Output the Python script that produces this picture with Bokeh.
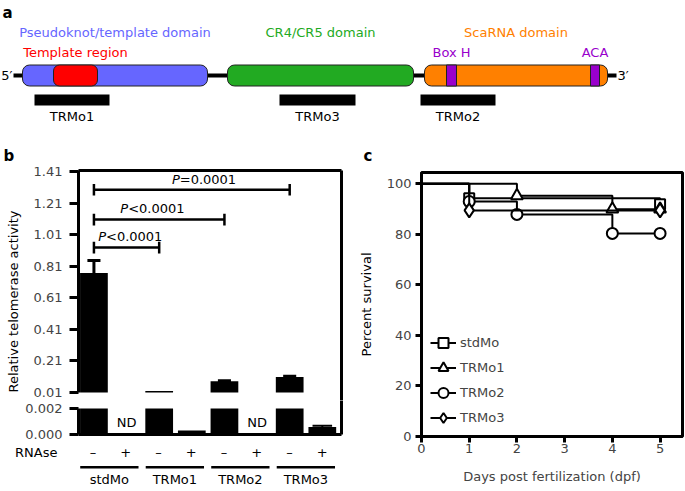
import math
from bokeh.plotting import figure
from bokeh.models import (Range1d, LinearAxis, FixedTicker, NumeralTickFormatter,
                          Legend, LegendItem)
from bokeh.layouts import column, row
from bokeh.embed import file_html
from bokeh.resources import INLINE
from bokeh.core.properties import value

FONT = "DejaVu Sans"
FS = "13px"

# ---------------- Panel a data (diagram units) ----------------
domain_names = ["Pseudoknot/template domain", "CR4/CR5 domain", "ScaRNA domain"]
domain_start = [22, 227, 424]
domain_end = [207, 413, 607]
domain_colors = ["#6666ff", "#22aa22", "#ff8000"]
template_name = ["Template region"]
template_start = [53]
template_end = [97]
template_color = ["#ff0000"]
motif_names = ["Box H", "ACA"]
motif_start = [446, 590]
motif_end = [456, 599]
motif_color = ["#9900cc", "#9900cc"]
rna_start, rna_end = 13, 616
mo_names = ["TRMo1", "TRMo3", "TRMo2"]
mo_start = [34, 279, 420]
mo_end = [109, 355, 495]

# ---------------- Panel b data ----------------
groups = ["stdMo", "TRMo1", "TRMo2", "TRMo3"]
rnase = ["\u2013", "+"]
activity = [0.769, None, 0.020, 0.0003, 0.081, None, 0.108, 0.00058]
act_err = [0.079, None, 0.0, 0.0, 0.004, None, 0.005, 0.0001]
upper_ticks = [0.01, 0.21, 0.41, 0.61, 0.81, 1.01, 1.21, 1.41]
lower_ticks = [0.0, 0.002]
pv_from = [0, 0, 0]
pv_to = [2, 4, 6]
pv_y = [0.93, 1.108, 1.297]
pv_text = ["<0.0001", "<0.0001", "=0.0001"]
pv_label_x = [0.37, 1.05, 2.63]

# ---------------- Panel c data ----------------
series_names = ["stdMo", "TRMo1", "TRMo2", "TRMo3"]
series_days = [[0, 1, 5], [0, 2, 4, 5], [0, 1, 2, 4, 5], [0, 1, 5]]
series_surv = [[100, 94.3, 91.9], [100, 95.3, 90.0, 90.0],
               [100, 93.0, 87.9, 80.4, 80.4], [100, 89.5, 89.5]]
series_marker = ["square", "triangle", "circle", "diamond"]
series_msize = [10, 12, 11, 14]
c_xticks = [0, 1, 2, 3, 4, 5]
c_yticks = [0, 20, 40, 60, 80, 100]


def base_fig(**kw):
    p = figure(toolbar_location=None, output_backend="svg",
               x_axis_location=None, y_axis_location=None, **kw)
    p.xgrid.visible = False
    p.ygrid.visible = False
    p.background_fill_color = None
    p.border_fill_color = None
    return p


def tx(p, **kw):
    kw.setdefault("text_font", value(FONT))
    kw.setdefault("text_font_size", value(FS))
    kw.setdefault("text_color", "black")
    return p.text(**kw)


def border_axis():
    return LinearAxis(ticker=FixedTicker(ticks=[]), axis_line_width=3,
                      axis_line_color="black", major_tick_line_color=None,
                      minor_tick_line_color=None, major_label_text_font_size="0px",
                      major_tick_out=0, major_tick_in=0, major_label_standoff=0)


TOTAL_W = 684

# ================= Panel a =================
fa = base_fig(width=TOTAL_W, height=140, x_range=Range1d(0, TOTAL_W), y_range=Range1d(140, 0),
              min_border=0, outline_line_color=None)
fa.line(x=[rna_start, rna_end], y=[75, 75], line_width=4, line_color="black")
fa.quad(left=domain_start, right=domain_end, top=64.5, bottom=85.5,
        fill_color=domain_colors, line_color="#222222", line_width=1, border_radius=7)
fa.quad(left=template_start, right=template_end, top=64.5, bottom=85.5,
        fill_color=template_color, line_color="#222222", line_width=1, border_radius=6)
fa.quad(left=motif_start, right=motif_end, top=64.5, bottom=85.5,
        fill_color=motif_color, line_color="#222222", line_width=1)
fa.quad(left=mo_start, right=mo_end, top=94, bottom=105, fill_color="black", line_color=None)
tx(fa, x=[(s + e) / 2 for s, e in zip(domain_start, domain_end)], y=[31.5] * 3,
   text=domain_names, text_color=domain_colors, text_align="center", text_baseline="middle")
tx(fa, x=[(s + e) / 2 for s, e in zip(template_start, template_end)], y=[51.5],
   text=template_name, text_color=template_color, text_align="center", text_baseline="middle")
tx(fa, x=[(s + e) / 2 for s, e in zip(motif_start, motif_end)], y=[51.5] * 2,
   text=motif_names, text_color=motif_color, text_align="center", text_baseline="middle")
tx(fa, x=[(s + e) / 2 for s, e in zip(mo_start, mo_end)], y=[116] * 3,
   text=mo_names, text_align="center", text_baseline="middle")
tx(fa, x=[rna_start - 1], y=[75], text=["5\u2032"], text_align="right", text_baseline="middle")
tx(fa, x=[rna_end + 1], y=[75], text=["3\u2032"], text_align="left", text_baseline="middle")
tx(fa, x=[2], y=[12], text=["a"], text_font_style="bold", text_font_size=value("15px"),
   text_align="left", text_baseline="alphabetic")

# ================= Panel b =================
slots = list(range(len(groups) * len(rnase)))
XS, XE = -0.473, 7.588
LAB_W = 22
B_LEFT, B_RIGHT = 55, 9
TOP_W = 328
frame_w = TOP_W - B_LEFT - B_RIGHT
kx = frame_w / (XE - XS)
xr = Range1d(XS, XE)

KY = 157.5            # px per unit, upper segment
UP_BOT_PAD = 8        # px between the 0.01 level and the bottom of the upper frame
UP_TOP = 1.4195
up_start = 0.01 - UP_BOT_PAD / KY
TOP_H = 260
ftop = base_fig(width=TOP_W, height=TOP_H, x_range=xr, y_range=Range1d(up_start, UP_TOP),
                min_border_left=B_LEFT, min_border_right=B_RIGHT, min_border_top=30,
                min_border_bottom=0, outline_line_color=None)
ax_up = LinearAxis(ticker=FixedTicker(ticks=upper_ticks), formatter=NumeralTickFormatter(format="0.00"),
                   bounds=(0.01, UP_TOP),
                   axis_line_width=3, major_tick_line_width=3, major_tick_out=9, major_tick_in=0,
                   minor_tick_line_color=None, major_label_standoff=7,
                   major_label_text_font=FONT, major_label_text_font_size=FS)
ftop.add_layout(ax_up, "left")
ftop.add_layout(border_axis(), "above")
ftop.add_layout(border_axis(), "right")

up_i = [i for i, v in enumerate(activity) if v is not None and v > 0.01]
ftop.vbar(x=[slots[i] for i in up_i], bottom=0.01, top=[activity[i] for i in up_i],
          width=0.85, fill_color="black", line_color=None)
eb_i = [i for i in up_i if act_err[i] > 0]
ftop.segment(x0=[slots[i] for i in eb_i], x1=[slots[i] for i in eb_i],
             y0=[activity[i] for i in eb_i], y1=[activity[i] + act_err[i] for i in eb_i],
             line_width=3, line_color="black")
ftop.segment(x0=[slots[i] - 0.2 for i in eb_i], x1=[slots[i] + 0.2 for i in eb_i],
             y0=[activity[i] + act_err[i] for i in eb_i], y1=[activity[i] + act_err[i] for i in eb_i],
             line_width=3, line_color="black")
# significance brackets
ftop.segment(x0=[slots[a] for a in pv_from], x1=[slots[b] for b in pv_to], y0=pv_y, y1=pv_y,
             line_width=2.5, line_color="black")
cap = 0.037
ends = [slots[a] for a in pv_from] + [slots[b] for b in pv_to]
ends_y = pv_y + pv_y
ftop.segment(x0=ends, x1=ends, y0=[y - cap for y in ends_y], y1=[y + cap for y in ends_y],
             line_width=2.5, line_color="black")
lab_dy = 0.068
tx(ftop, x=pv_label_x, y=[y + lab_dy for y in pv_y], text=["P"] * 3, text_font_style="italic",
   text_align="right", text_baseline="alphabetic")
tx(ftop, x=pv_label_x, y=[y + lab_dy for y in pv_y], text=pv_text,
   text_align="left", text_baseline="alphabetic")

# lower segment: 0.002 spans 26 px, frame 34 px tall
LOW_H = 44
low_top = 0.002 * 34 / 26
flow = base_fig(width=TOP_W, height=LOW_H, x_range=xr, y_range=Range1d(0, low_top),
                min_border_left=B_LEFT, min_border_right=B_RIGHT, min_border_top=0,
                min_border_bottom=10, outline_line_color=None)
ax_lo = LinearAxis(ticker=FixedTicker(ticks=lower_ticks), formatter=NumeralTickFormatter(format="0.000"),
                   bounds=(0, 0.002), axis_line_width=3, major_tick_line_width=3, major_tick_out=9,
                   major_tick_in=0, minor_tick_line_color=None, major_label_standoff=7,
                   major_label_text_font=FONT, major_label_text_font_size=FS)
flow.add_layout(ax_lo, "left")
flow.add_layout(border_axis(), "right")
flow.add_layout(border_axis(), "below")
lo_i = [i for i, v in enumerate(activity) if v is not None]
flow.vbar(x=[slots[i] for i in lo_i], bottom=0, top=[min(activity[i], 0.002) for i in lo_i],
          width=0.85, fill_color="black", line_color=None)
elo = [i for i in lo_i if activity[i] < 0.002 and act_err[i] > 0]
flow.segment(x0=[slots[i] for i in elo], x1=[slots[i] for i in elo],
             y0=[activity[i] for i in elo], y1=[activity[i] + act_err[i] for i in elo],
             line_width=2, line_color="black")
flow.segment(x0=[slots[i] - 0.3 for i in elo], x1=[slots[i] + 0.3 for i in elo],
             y0=[activity[i] + act_err[i] for i in elo], y1=[activity[i] + act_err[i] for i in elo],
             line_width=2, line_color="black")
nd_i = [i for i, v in enumerate(activity) if v is None]
tx(flow, x=[slots[i] for i in nd_i], y=[0.00095] * len(nd_i), text=["ND"] * len(nd_i),
   text_align="center", text_baseline="middle")

# y label + "b"
LAB_H = TOP_H + LOW_H
flab = base_fig(width=LAB_W, height=LAB_H, x_range=Range1d(0, LAB_W),
                y_range=Range1d(140 + LAB_H, 140), min_border=0, outline_line_color=None)
tx(flab, x=[3], y=[155], text=["b"], text_font_style="bold", text_font_size=value("15px"),
   text_align="left", text_baseline="alphabetic")
tx(flab, x=[13], y=[301], text=["Relative telomerase activity"], angle=math.pi / 2,
   text_align="center", text_baseline="middle")

# x labels
XL_W = LAB_W + TOP_W
XL_TOP = 140 + LAB_H
frame_left_px = LAB_W + B_LEFT
frame_right_px = LAB_W + TOP_W - B_RIGHT
xl_start = XS - frame_left_px / kx
xl_end = XE + (XL_W - frame_right_px) / kx
fxl = base_fig(width=XL_W, height=490 - XL_TOP, x_range=Range1d(xl_start, xl_end),
               y_range=Range1d(490, XL_TOP), min_border=0, outline_line_color=None)
tx(fxl, x=slots, y=[452] * len(slots), text=rnase * len(groups), text_align="center",
   text_baseline="middle")
tx(fxl, x=[XS - 20 / kx], y=[452], text=["RNAse"], text_align="right", text_baseline="middle")
gcent = [2 * g + 0.5 for g in range(len(groups))]
fxl.segment(x0=[c - 0.89 for c in gcent], x1=[c + 0.89 for c in gcent], y0=[466.7] * 4,
            y1=[466.7] * 4, line_width=2.5, line_color="black")
tx(fxl, x=gcent, y=[478.5] * 4, text=groups, text_align="center", text_baseline="middle")

panel_b = column(row(flab, column(ftop, flow)), fxl)

# ================= Panel c =================
CX0 = XL_W
CLAB_W = 25
clab = base_fig(width=CLAB_W, height=350, x_range=Range1d(CX0, CX0 + CLAB_W),
                y_range=Range1d(490, 140), min_border=0, outline_line_color=None)
tx(clab, x=[CX0 + 13], y=[155], text=["c"], text_font_style="bold", text_font_size=value("15px"),
   text_align="left", text_baseline="alphabetic")
tx(clab, x=[CX0 + 16], y=[304], text=["Percent survival"], angle=math.pi / 2,
   text_align="center", text_baseline="middle")

FC_W = TOTAL_W - CX0 - CLAB_W
fc = figure(width=FC_W, height=350, x_range=Range1d(0, 5.47), y_range=Range1d(0, 104.5),
            min_border_left=421 - CX0 - CLAB_W, min_border_right=2, min_border_top=32,
            min_border_bottom=54, toolbar_location=None, output_backend="svg",
            outline_line_color="black", outline_line_width=3)
fc.xgrid.visible = False
fc.ygrid.visible = False
for ax, ticks in ((fc.xaxis[0], c_xticks), (fc.yaxis[0], c_yticks)):
    ax.ticker = FixedTicker(ticks=ticks)
    ax.axis_line_width = 3
    ax.major_tick_line_width = 3
    ax.major_tick_out = 6
    ax.major_tick_in = 0
    ax.minor_tick_line_color = None
    ax.major_label_text_font = FONT
    ax.major_label_text_font_size = FS
    ax.axis_label_text_font = FONT
    ax.axis_label_text_font_size = FS
    ax.axis_label_text_font_style = "normal"
fc.xaxis.axis_label = "Days post fertilization (dpf)"
fc.xaxis.major_label_standoff = 1
fc.xaxis.axis_label_standoff = 13
fc.yaxis.major_label_standoff = 4

items = []
for name, d, s, m, ms in zip(series_names, series_days, series_surv, series_marker, series_msize):
    lr = fc.step(x=d, y=s, mode="after", line_width=2, line_color="black")
    sr = fc.scatter(x=d[1:], y=s[1:], marker=m, size=ms, fill_color="white",
                    line_color="black", line_width=2)
    items.append(LegendItem(label=name, renderers=[lr, sr]))
leg = Legend(items=items, location=(9, 6), padding=0, margin=0, border_line_color=None,
             background_fill_alpha=0, glyph_width=26, glyph_height=25, label_height=25,
             spacing=0, label_standoff=4, label_text_font=FONT, label_text_font_size=FS)
fc.add_layout(leg)

layout = column(fa, row(panel_b, column(clab), fc))
open("out.html", "w").write(file_html(layout, INLINE))
